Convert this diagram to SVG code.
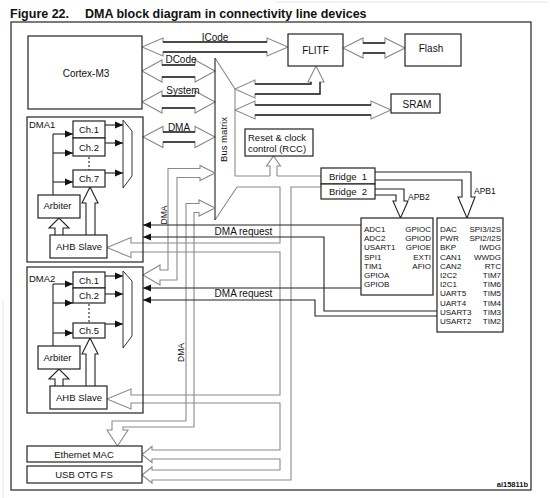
<svg xmlns="http://www.w3.org/2000/svg" width="550" height="498" viewBox="0 0 550 498">
<defs>
<style>
.t{font-family:"Liberation Sans",Arial,sans-serif;font-size:9.5px;fill:#111}
.l{font-size:10px}
.s{font-size:8px}
.b{font-weight:bold}
.box{fill:#fff;stroke:#222;stroke-width:1.2}
.ga{fill:#fff;stroke:#8a8a8a;stroke-width:1.1}
.gl{fill:none;stroke:#8a8a8a;stroke-width:1.1}
.sh{fill:none;stroke:#222;stroke-width:1.3}
.dk{fill:none;stroke:#222;stroke-width:1.1}
.da{fill:#fff;stroke:#222;stroke-width:1.1}
</style>
<marker id="ah" viewBox="0 0 8 8" refX="8" refY="4" markerWidth="8" markerHeight="8" markerUnits="userSpaceOnUse" orient="auto"><path d="M0,0.5 L8,4 L0,7.5 Z" fill="#111"/></marker>
</defs>
<rect width="550" height="498" fill="#fff"/>
<path d="M275,2 H548 M3,300 V498" stroke="#e4e4e4" stroke-width="1" fill="none"/>
<text class="t b" x="10" y="18" style="font-size:12.5px">Figure 22.</text>
<text class="t b" x="85" y="18" style="font-size:12.5px">DMA block diagram in connectivity line devices</text>
<rect x="11" y="22" width="520" height="468" fill="none" stroke="#333" stroke-width="1.3"/>

<g id="connectors">
  <!-- ICode -->
  <polygon class="ga" points="142,47 163,38 163,42 267,42 267,38 288,47 267,56 267,52 163,52 163,56"/>
  <path class="sh" d="M163,42 H267 M163,52 H267"/>
  <!-- DCode -->
  <polygon class="ga" points="142,71 162,60 162,65 195,65 195,60 215,71 195,82 195,77 162,77 162,82"/>
  <path class="sh" d="M162,65 H195 M162,77 H195"/>
  <!-- System -->
  <polygon class="ga" points="142,102 162,91 162,96 195,96 195,91 215,102 195,113 195,108 162,108 162,113"/>
  <path class="sh" d="M162,96 H195 M162,108 H195"/>
  <!-- DMA1 master -->
  <polygon class="ga" points="143,137 163,126.5 163,132 195,132 195,126.5 215,137 195,147.5 195,142 163,142 163,147.5"/>
  <path class="sh" d="M163,132 H195 M163,142 H195"/>
  <!-- FLITF - Flash -->
  <polygon class="ga" points="343,48 363,38 363,43 385,43 385,38 405,48 385,58 385,53 363,53 363,58"/>
  <path class="sh" d="M363,43 H385 M363,53 H385"/>
  <!-- Bus matrix - SRAM -->
  <polygon class="ga" points="235,110 255,101 255,105 371,105 371,101 391,110 371,119 371,115 255,115 255,119"/>
  <path class="sh" d="M255,105 H371 M255,115 H371"/>
  <!-- Bus matrix - FLITF -->
  <polygon class="ga" points="235,89 255,80 255,84 311,84 311,82 308,82 316,66 324,82 320,82 320,94 255,94 255,98"/>
  <path class="sh" d="M255,84 H311 V82 M255,94 H320 V82"/>
  <!-- Bus matrix outline -->
  <path class="gl" d="M215,58 L235,89 V176 M215,220 L237,187"/>
  <path class="dk" d="M215,58 V220"/>
  <!-- System bus to bridges / AHB slaves -->
  <path class="gl" d="M235,176 H270 M277,176 H321"/>
  <path class="gl" d="M270,176 V166 H266.5 L273.5,156 L280.5,166 H277 V176"/>
  <path class="gl" d="M237,187 H280 V243 H131 V237.5 L107,247.5 L131,257.5 V252 H280 V395 H131 V389 L107,399 L131,409 V403 H280 V450 H152 V446.5 L142,454.5 L152,462.5 V459 H280 V470 H152 V467 L142,475 L152,483 V480 H291 V187 H321"/>
  <!-- DMA2 master -->
  <path class="gl" d="M215,173 L200,165.5 V168.5 H168 V270 H160 V265 L143,275 L160,285 V280 H177 V177.5 H200 V180.5 Z"/>
  <!-- Ethernet DMA master -->
  <path class="gl" d="M215,208 L199,200 V203.5 H186 V421 H112 V430 H107 L117.5,446 L128,430 H123 V427 H194 V212.5 H199 V216 Z"/>
  <!-- APB buses -->
  <path class="dk" d="M375,172 H471 V197 H475 L467,218 L458,197 H462 V180 H375"/>
  <path class="dk" d="M375,189 H404 V201 H408 L400.5,218 L393,201 H396 V195 H375"/>
  <!-- DMA requests -->
  <path class="dk" marker-end="url(#ah)" d="M361,225 H143"/>
  <path class="dk" marker-end="url(#ah)" d="M437,311 H324 V237 H143"/>
  <path class="dk" marker-end="url(#ah)" d="M361,288 H143"/>
  <path class="dk" marker-end="url(#ah)" d="M437,316 H315 V300 H143"/>
  <!-- DMA1 internal -->
  <path class="dk" d="M53,134 V195"/>
  <path class="dk" marker-end="url(#ah)" d="M53,134 H73"/>
  <path class="dk" marker-end="url(#ah)" d="M53,153 H73"/>
  <path class="dk" marker-end="url(#ah)" d="M53,182 H73"/>
  <path class="dk" marker-end="url(#ah)" d="M105,125 H123"/>
  <path class="dk" marker-end="url(#ah)" d="M105,143 H123"/>
  <path class="dk" marker-end="url(#ah)" d="M105,173 H123"/>
  <path class="dk" d="M89,157 V170" stroke-dasharray="2,2"/>
  <path class="da" d="M55,235 V228 H49 L59,218 L69,228 H63 V235"/>
  <path class="da" d="M86,235 V203 H82 L90,187 L98,203 H95 V235"/>
  <!-- DMA2 internal -->
  <path class="dk" d="M53,284 V346"/>
  <path class="dk" marker-end="url(#ah)" d="M53,284 H73"/>
  <path class="dk" marker-end="url(#ah)" d="M53,303 H73"/>
  <path class="dk" marker-end="url(#ah)" d="M53,333 H73"/>
  <path class="dk" marker-end="url(#ah)" d="M105,276 H123"/>
  <path class="dk" marker-end="url(#ah)" d="M105,294 H123"/>
  <path class="dk" marker-end="url(#ah)" d="M105,324 H123"/>
  <path class="dk" d="M89,304 V322" stroke-dasharray="2,2"/>
  <path class="da" d="M55,386 V379 H49 L59,369 L69,379 H63 V386"/>
  <path class="da" d="M86,386 V354 H82 L90,338 L98,354 H95 V386"/>
</g>

<g id="cortex"><rect class="box" x="28" y="36" width="114" height="73"/><text class="t l" x="86" y="77" text-anchor="middle">Cortex-M3</text></g>
<g id="flitf"><rect class="box" x="288" y="34" width="55" height="32"/><text class="t l" x="315.5" y="54" text-anchor="middle">FLITF</text></g>
<g id="flash"><rect class="box" x="405" y="34" width="56" height="32"/><text class="t l" x="431" y="52" text-anchor="middle">Flash</text></g>
<g id="sram"><rect class="box" x="391" y="94" width="49" height="19"/><text class="t l" x="417" y="108" text-anchor="middle">SRAM</text></g>
<g id="busmatrix"><text class="t" transform="translate(227,139.5) rotate(-90)" text-anchor="middle">Bus matrix</text></g>
<g id="rcc"><rect class="box" x="245" y="129" width="68" height="27"/><text class="t" x="248" y="141">Reset &amp; clock</text><text class="t" x="248" y="152">control (RCC)</text></g>
<g id="bridge1"><rect class="box" x="321" y="168" width="54" height="16"/><text class="t" x="329" y="180" xml:space="preserve">Bridge  1</text></g>
<g id="bridge2"><rect class="box" x="321" y="184" width="54" height="15"/><text class="t" x="329" y="195" xml:space="preserve">Bridge  2</text></g>

<g id="labels">
  <text class="t l" x="215" y="41" text-anchor="middle">ICode</text>
  <text class="t l" x="181" y="63" text-anchor="middle">DCode</text>
  <text class="t l" x="183" y="94" text-anchor="middle">System</text>
  <text class="t l" x="179" y="131" text-anchor="middle">DMA</text>
  <text class="t" style="font-size:8.5px" transform="translate(167,215) rotate(-90)" text-anchor="middle">DMA</text>
  <text class="t" style="font-size:8.5px" transform="translate(184,352.5) rotate(-90)" text-anchor="middle">DMA</text>
  <text class="t l" x="243.5" y="235" text-anchor="middle">DMA request</text>
  <text class="t l" x="243.5" y="297" text-anchor="middle">DMA request</text>
  <text class="t" style="font-size:8.5px" x="408" y="200">APB2</text>
  <text class="t" style="font-size:8.5px" x="474" y="194">APB1</text>
  <text class="t b" style="font-size:7.5px" x="528" y="487" text-anchor="end">ai15811b</text>
</g>

<g id="apb2">
  <rect class="box" x="361" y="218" width="72" height="77"/>
  <g class="t s">
    <text x="364" y="232">ADC1</text><text x="364" y="241.2">ADC2</text><text x="364" y="250.4">USART1</text><text x="364" y="259.6">SPI1</text><text x="364" y="268.8">TIM1</text><text x="364" y="278">GPIOA</text><text x="364" y="287.2">GPIOB</text>
    <text x="431" y="232" text-anchor="end">GPIOC</text><text x="431" y="241.2" text-anchor="end">GPIOD</text><text x="431" y="250.4" text-anchor="end">GPIOE</text><text x="431" y="259.6" text-anchor="end">EXTI</text><text x="431" y="268.8" text-anchor="end">AFIO</text>
  </g>
</g>
<g id="apb1">
  <rect class="box" x="437" y="218" width="66" height="114"/>
  <g class="t s">
    <text x="440" y="232">DAC</text><text x="440" y="241.2">PWR</text><text x="440" y="250.4">BKP</text><text x="440" y="259.6">CAN1</text><text x="440" y="268.8">CAN2</text><text x="440" y="278">I2C2</text><text x="440" y="287.2">I2C1</text><text x="440" y="296.4">UART5</text><text x="440" y="305.6">UART4</text><text x="440" y="314.8">USART3</text><text x="440" y="324">USART2</text>
    <text x="501" y="232" text-anchor="end">SPI3/I2S</text><text x="501" y="241.2" text-anchor="end">SPI2/I2S</text><text x="501" y="250.4" text-anchor="end">IWDG</text><text x="501" y="259.6" text-anchor="end">WWDG</text><text x="501" y="268.8" text-anchor="end">RTC</text><text x="501" y="278" text-anchor="end">TIM7</text><text x="501" y="287.2" text-anchor="end">TIM6</text><text x="501" y="296.4" text-anchor="end">TIM5</text><text x="501" y="305.6" text-anchor="end">TIM4</text><text x="501" y="314.8" text-anchor="end">TIM3</text><text x="501" y="324" text-anchor="end">TIM2</text>
  </g>
</g>

<g id="dma1">
  <rect x="27" y="117" width="116" height="145" fill="none" stroke="#222" stroke-width="1.2"/>
  <text class="t" x="29" y="128">DMA1</text>
  <g id="dma1-ch1"><rect class="box" x="73" y="121" width="32" height="17"/><text class="t" x="89" y="133" text-anchor="middle">Ch.1</text></g>
  <g id="dma1-ch2"><rect class="box" x="73" y="138" width="32" height="18"/><text class="t" x="89" y="151" text-anchor="middle">Ch.2</text></g>
  <g id="dma1-ch7"><rect class="box" x="73" y="170" width="32" height="17"/><text class="t" x="89" y="182" text-anchor="middle">Ch.7</text></g>
  <polygon points="123,120 132,131 132,176 123,188" fill="#fff" stroke="#333" stroke-width="1"/>
  <g id="dma1-arbiter"><rect class="box" x="38" y="195" width="42" height="23"/><text class="t" x="57.5" y="209" text-anchor="middle">Arbiter</text></g>
  <g id="dma1-ahb"><rect class="box" x="50" y="235" width="57" height="23"/><text class="t" x="79" y="250" text-anchor="middle">AHB Slave</text></g>
</g>

<g id="dma2">
  <rect x="27" y="267" width="116" height="146" fill="none" stroke="#222" stroke-width="1.2"/>
  <text class="t" x="29" y="282">DMA2</text>
  <g id="dma2-ch1"><rect class="box" x="73" y="272" width="32" height="16"/><text class="t" x="89" y="284" text-anchor="middle">Ch.1</text></g>
  <g id="dma2-ch2"><rect class="box" x="73" y="288" width="32" height="15"/><text class="t" x="89" y="299" text-anchor="middle">Ch.2</text></g>
  <g id="dma2-ch5"><rect class="box" x="73" y="323" width="32" height="15"/><text class="t" x="89" y="334" text-anchor="middle">Ch.5</text></g>
  <polygon points="123,271 132,281 132,336 123,348" fill="#fff" stroke="#333" stroke-width="1"/>
  <g id="dma2-arbiter"><rect class="box" x="38" y="346" width="42" height="23"/><text class="t" x="57.5" y="361" text-anchor="middle">Arbiter</text></g>
  <g id="dma2-ahb"><rect class="box" x="50" y="386" width="57" height="23"/><text class="t" x="79" y="401" text-anchor="middle">AHB Slave</text></g>
</g>

<g id="ethernet"><rect class="box" x="27" y="446" width="115" height="16"/><text class="t" x="84" y="457.5" text-anchor="middle">Ethernet MAC</text></g>
<g id="usb"><rect class="box" x="27" y="466" width="115" height="17"/><text class="t" x="84" y="478" text-anchor="middle">USB OTG FS</text></g>
</svg>
